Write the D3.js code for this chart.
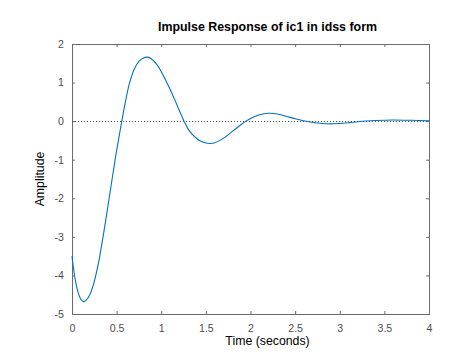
<!DOCTYPE html>
<html>
<head>
<meta charset="utf-8">
<script src="https://cdn.jsdelivr.net/npm/d3@7/dist/d3.min.js"></script>
<style>
  html, body { margin: 0; padding: 0; background: #fff; }
  svg { display: block; }
  text { font-family: "Liberation Sans", Arial, Helvetica, sans-serif; }
</style>
</head>
<body>
<svg id="chart" width="474" height="355"></svg>
<script>
// ---- Data ----
const timeValues = [0, 0.025, 0.05, 0.075, 0.1, 0.13, 0.16, 0.2, 0.24, 0.28, 0.31, 0.345, 0.38, 0.42, 0.455, 0.487, 0.52, 0.558, 0.6, 0.645, 0.7, 0.75, 0.8, 0.84, 0.88, 0.95, 1.0, 1.05, 1.1, 1.15, 1.2, 1.255, 1.3, 1.35, 1.4, 1.45, 1.5, 1.55, 1.6, 1.7, 1.8, 1.9, 1.95, 2.0, 2.1, 2.2, 2.3, 2.4, 2.5, 2.6, 2.7, 2.8, 2.9, 3.0, 3.1, 3.2, 3.3, 3.4, 3.6, 3.8, 4.0];
const amplitudeValues = [-3.50, -3.95, -4.27, -4.49, -4.62, -4.68, -4.64, -4.50, -4.24, -3.86, -3.51, -3.04, -2.54, -1.94, -1.415, -0.94, -0.50, 0.00, 0.52, 0.99, 1.36, 1.55, 1.64, 1.66, 1.63, 1.47, 1.28, 1.06, 0.82, 0.56, 0.29, 0.00, -0.20, -0.35, -0.455, -0.53, -0.568, -0.578, -0.56, -0.44, -0.26, -0.08, 0.00, 0.07, 0.165, 0.205, 0.185, 0.125, 0.06, 0.01, -0.035, -0.06, -0.07, -0.06, -0.04, -0.015, 0.005, 0.018, 0.03, 0.022, 0.008];
const xTickValues = [0, 0.5, 1, 1.5, 2, 2.5, 3, 3.5, 4];
const xTickLabels = ["0", "0.5", "1", "1.5", "2", "2.5", "3", "3.5", "4"];
const yTickValues = [-5, -4, -3, -2, -1, 0, 1, 2];
const yTickLabels = ["-5", "-4", "-3", "-2", "-1", "0", "1", "2"];
const titleText = "Impulse Response of ic1 in idss form";
const xLabelText = "Time (seconds)";
const yLabelText = "Amplitude";

// ---- Layout ----
const plot = { left: 72, top: 44, right: 429, bottom: 314 };
const svg = d3.select("#chart");

const x = d3.scaleLinear().domain([0, 4]).range([plot.left, plot.right]);
const y = d3.scaleLinear().domain([-5, 2]).range([plot.bottom, plot.top]);

const axisColor = "#6b6b6b";
const labelColor = "#4d4d4d";
const tickLen = 3;

function styleAxis(g, showLabels) {
  g.select(".domain").remove();
  g.selectAll(".tick line").attr("stroke", axisColor).attr("stroke-width", 1);
  g.selectAll(".tick text")
    .attr("fill", labelColor)
    .style("font-size", "10.6px")
    .style("display", showLabels ? null : "none");
}

// bottom axis (ticks inside)
svg.append("g")
  .attr("transform", `translate(0,${plot.bottom})`)
  .call(d3.axisBottom(x).tickValues(xTickValues)
    .tickFormat((d, i) => xTickLabels[i])
    .tickSizeInner(-tickLen).tickSizeOuter(0).tickPadding(10))
  .call(g => styleAxis(g, true))
  .call(g => g.selectAll(".tick text").attr("dy", "0.71em"));

// top axis (ticks only)
svg.append("g")
  .attr("transform", `translate(0,${plot.top})`)
  .call(d3.axisTop(x).tickValues(xTickValues).tickSizeInner(-tickLen).tickSizeOuter(0))
  .call(g => styleAxis(g, false));

// left axis
svg.append("g")
  .attr("transform", `translate(${plot.left},0)`)
  .call(d3.axisLeft(y).tickValues(yTickValues)
    .tickFormat((d, i) => yTickLabels[i])
    .tickSizeInner(-tickLen).tickSizeOuter(0).tickPadding(8))
  .call(g => styleAxis(g, true));

// right axis (ticks only)
svg.append("g")
  .attr("transform", `translate(${plot.right},0)`)
  .call(d3.axisRight(y).tickValues(yTickValues).tickSizeInner(-tickLen).tickSizeOuter(0))
  .call(g => styleAxis(g, false));

// box
svg.append("rect")
  .attr("x", plot.left + 0.5).attr("y", plot.top + 0.5)
  .attr("width", plot.right - plot.left).attr("height", plot.bottom - plot.top)
  .attr("fill", "none").attr("stroke", axisColor).attr("stroke-width", 1);

// zero dotted line
svg.append("line")
  .attr("x1", x(0)).attr("x2", x(4))
  .attr("y1", Math.round(y(0)) + 0.5).attr("y2", Math.round(y(0)) + 0.5)
  .attr("stroke", "#555").attr("stroke-width", 1)
  .attr("stroke-dasharray", "1,2");

// response curve
const data = timeValues.map((t, i) => ({ t, v: amplitudeValues[i] }));
svg.append("path")
  .datum(data)
  .attr("fill", "none")
  .attr("stroke", "#0072BD")
  .attr("stroke-width", 1.1)
  .attr("d", d3.line().x(d => x(d.t)).y(d => y(d.v)).curve(d3.curveCatmullRom.alpha(0.5)));

// title
svg.append("text")
  .attr("x", 267.5).attr("y", 31)
  .attr("text-anchor", "middle")
  .style("font-size", "12.4px").style("font-weight", "bold")
  .attr("fill", "#000")
  .text(titleText);

// x label
svg.append("text")
  .attr("x", 267.5).attr("y", 345)
  .attr("text-anchor", "middle")
  .style("font-size", "12.3px")
  .attr("fill", "#000")
  .text(xLabelText);

// y label
svg.append("text")
  .attr("transform", `translate(44,${(plot.top + plot.bottom) / 2}) rotate(-90)`)
  .attr("text-anchor", "middle")
  .style("font-size", "12.3px")
  .attr("fill", "#000")
  .text(yLabelText);
</script>
</body>
</html>
